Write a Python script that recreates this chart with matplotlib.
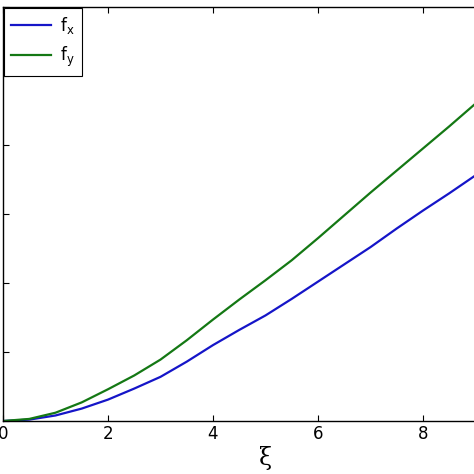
import numpy as np
import matplotlib
matplotlib.use("Agg")
import matplotlib.pyplot as plt

# values
xi = [0, 0.5, 1, 1.5, 2, 2.5, 3, 3.5, 4, 4.5, 5, 5.5, 6, 6.5, 7, 7.5, 8, 8.5, 9]
f_x = [0, 0.02, 0.08, 0.18, 0.31, 0.47, 0.64, 0.86, 1.10, 1.32, 1.53, 1.77,
       2.02, 2.27, 2.52, 2.79, 3.05, 3.30, 3.56]
f_y = [0, 0.03, 0.12, 0.27, 0.46, 0.66, 0.89, 1.17, 1.47, 1.76, 2.04, 2.33,
       2.65, 2.98, 3.31, 3.63, 3.95, 4.27, 4.60]
x_ticks = [0, 2, 4, 6, 8, 10]
x_labels = ["0", "2", "4", "6", "8", ""]

fig = plt.figure(figsize=(4.74, 4.74), dpi=100)
# axes run past the right edge, like the cropped original
ax = fig.add_axes([3 / 474, 53 / 474, 525 / 474, 414 / 474])

ax.plot(xi, f_x, color="#1515c8", lw=1.6, label=r"$\mathregular{f_x}$")
ax.plot(xi, f_y, color="#147814", lw=1.6, label=r"$\mathregular{f_y}$")

ax.set_xlim(0, 10)
ax.set_ylim(0, 6)
ax.set_xticks(x_ticks, x_labels)
ax.set_yticks(range(7), [""] * 7)
ax.tick_params(direction="in", length=4, top=True, right=True,
               labelsize=12, pad=3)
ax.set_xlabel("ξ", fontsize=17, family="DejaVu Serif", labelpad=2)
for s in ax.spines.values():
    s.set_linewidth(1.0)

leg = ax.legend(loc="upper left", fontsize=12, handlelength=2.4,
                handletextpad=0.5, fancybox=False, edgecolor="black",
                framealpha=1, borderaxespad=0.05, borderpad=0.45,
                labelspacing=0.5)
leg.get_frame().set_linewidth(0.8)

fig.savefig("out.png", dpi=100)
